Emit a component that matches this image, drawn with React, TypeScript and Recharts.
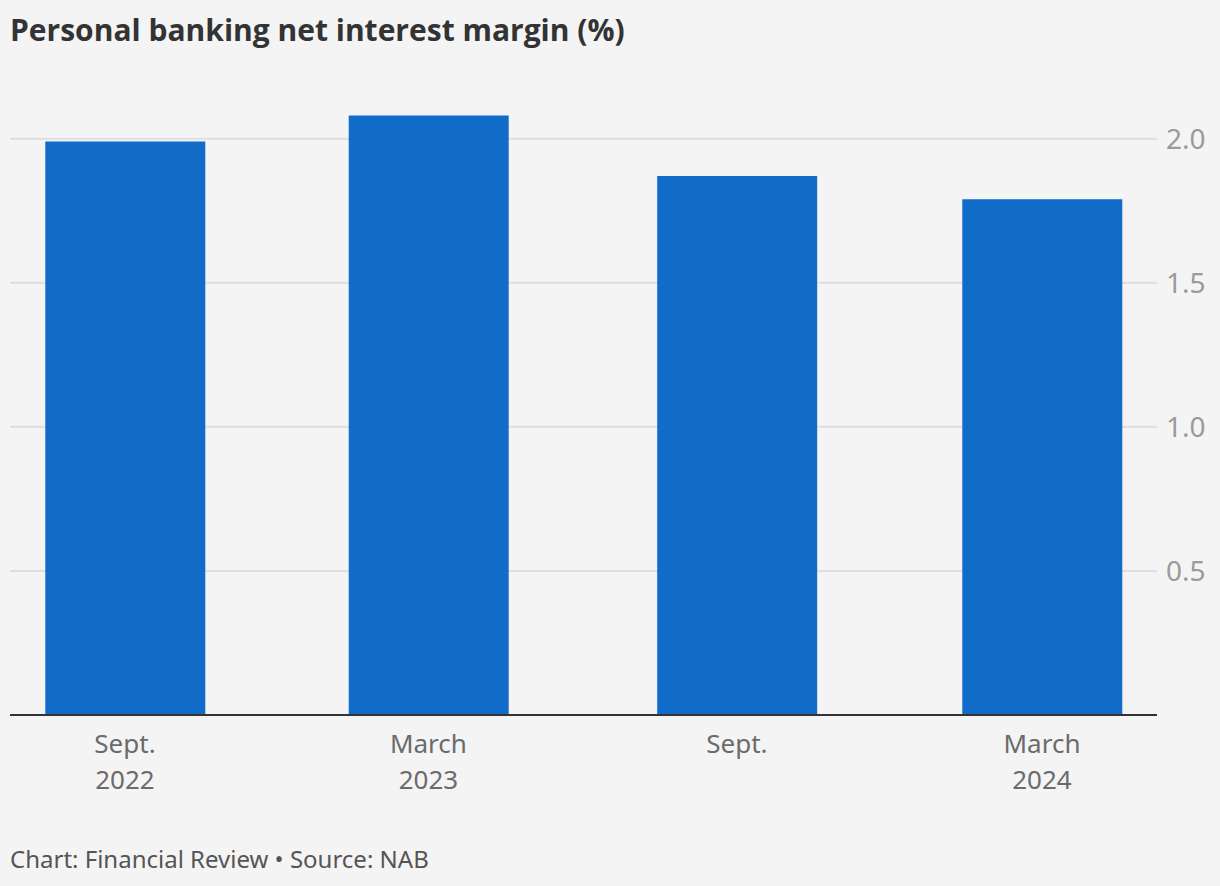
import React from 'react';
import { BarChart, Bar, XAxis, YAxis, CartesianGrid } from 'recharts';

// half-year reporting periods (first of month, UTC)
const periods = [Date.UTC(2022, 8, 1), Date.UTC(2023, 2, 1), Date.UTC(2023, 8, 1), Date.UTC(2024, 2, 1)];
const periodLabels = [['Sept.', '2022'], ['March', '2023'], ['Sept.'], ['March', '2024']];
const margins = [1.99, 2.08, 1.87, 1.79];
const yTicks = [0.5, 1.0, 1.5, 2.0];

const data = periods.map((t, i) => ({ t, margin: margins[i] }));

const DAY = 86400000;
const PAD = 68.6 * DAY;

const XTick = (props: any) => {
  const { x, y, payload } = props;
  const idx = periods.indexOf(payload.value);
  const lines = periodLabels[idx] || [];
  return (
    <g>
      {lines.map((l, i) => (
        <text key={i} x={x} y={y + 30 + i * 36} textAnchor="middle" fill="#6b6b6b" fontSize={26} fontFamily="'Noto Sans', sans-serif">
          {l}
        </text>
      ))}
    </g>
  );
};

const YTick = (props: any) => {
  const { x, y, payload } = props;
  return (
    <text x={x + 1} y={y + 10} textAnchor="start" fill="#9a9a9a" fontSize={28} fontFamily="'Noto Sans', sans-serif">
      {payload.value.toFixed(1)}
    </text>
  );
};

export default function App() {
  return (
    <div style={{ position: 'fixed', left: 0, top: 0, width: 1220, height: 886, background: '#f4f4f4', overflow: 'hidden' }}>
      <div style={{ position: 'absolute', left: 10, top: 9, fontFamily: "'Open Sans', sans-serif", fontWeight: 700, fontSize: 30, color: '#333', whiteSpace: 'nowrap' }}>
        Personal banking net interest margin (%)
      </div>
      <div style={{ position: 'absolute', left: 0, top: 0 }}>
        <BarChart width={1220} height={886} data={data} margin={{ top: 81, right: 0, left: 10, bottom: 71 }}>
          <CartesianGrid vertical={false} horizontalValues={yTicks} stroke="#dedede" strokeWidth={2} />
          <XAxis
            dataKey="t"
            type="number"
            scale="time"
            domain={[periods[0] - PAD, periods[periods.length - 1] + PAD]}
            ticks={periods}
            allowDataOverflow
            tick={<XTick />}
            tickLine={false}
            axisLine={{ stroke: '#333', strokeWidth: 2 }}
            height={100}
            interval={0}
          />
          <YAxis
            orientation="right"
            domain={[0, 2.2]}
            ticks={yTicks}
            tick={<YTick />}
            tickLine={false}
            axisLine={false}
            width={63}
            interval={0}
          />
          <Bar dataKey="margin" fill="#106cc8" barSize={160} isAnimationActive={false} />
        </BarChart>
      </div>
      <div style={{ position: 'absolute', left: 10, top: 842, fontFamily: "'Noto Sans', sans-serif", fontSize: 24, color: '#555', whiteSpace: 'nowrap' }}>
        Chart: Financial Review • Source: NAB
      </div>
    </div>
  );
}
